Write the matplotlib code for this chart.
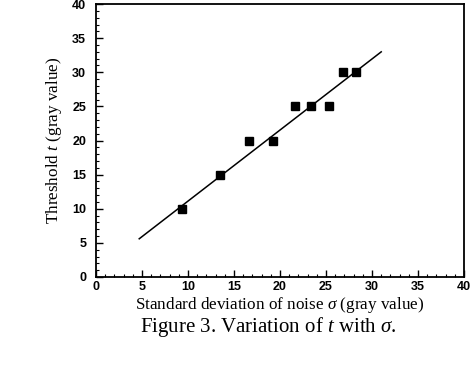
import numpy as np
import matplotlib.pyplot as plt
from matplotlib.ticker import MultipleLocator

# measured points (sigma, threshold)
sigma = [9.4, 13.5, 16.6, 19.2, 21.6, 23.4, 25.3, 26.8, 28.3]
threshold = [10, 15, 20, 20, 25, 25, 25, 30, 30]
# fitted line end points
fit_x = [4.7, 31.0]
fit_y = [5.6, 33.0]

plt.rcParams['mathtext.fontset'] = 'custom'
plt.rcParams['mathtext.rm'] = 'Liberation Serif'
plt.rcParams['mathtext.it'] = 'Liberation Serif:italic'

fig = plt.figure(figsize=(4.74, 3.70), dpi=100)
ax = fig.add_axes([0.2025, 0.2514, 0.7765, 0.7376])

ax.plot(fit_x, fit_y, color='black', lw=1.1)
ax.plot(sigma, threshold, 's', color='black', markersize=5.8)

ax.set_xlim(0, 40)
ax.set_ylim(0, 40)
ax.xaxis.set_major_locator(MultipleLocator(5))
ax.yaxis.set_major_locator(MultipleLocator(5))
ax.xaxis.set_minor_locator(MultipleLocator(1))
ax.yaxis.set_minor_locator(MultipleLocator(1))
ax.tick_params(which='major', direction='in', length=5, width=1.0,
               labelsize=9, pad=3)
ax.tick_params(which='minor', direction='in', length=2.5, width=0.8)
ax.tick_params(axis='y', pad=7)
for lab in ax.get_xticklabels() + ax.get_yticklabels():
    lab.set_fontweight('bold')
    lab.set_family('Liberation Sans')
for s in ax.spines.values():
    s.set_linewidth(1.3)

ax.set_xlabel(r'Standard deviation of noise $\sigma$ (gray value)',
              family='Liberation Serif', fontsize=12.3, labelpad=1)
ax.set_ylabel(r'Threshold $t$ (gray value)',
              family='Liberation Serif', fontsize=12.3, labelpad=6)

fig.text(0.567, 0.116, r'Figure 3. Variation of $t$ with $\sigma$.',
         family='Liberation Serif', fontsize=15, ha='center', va='center')

fig.savefig('out.png', dpi=100)
